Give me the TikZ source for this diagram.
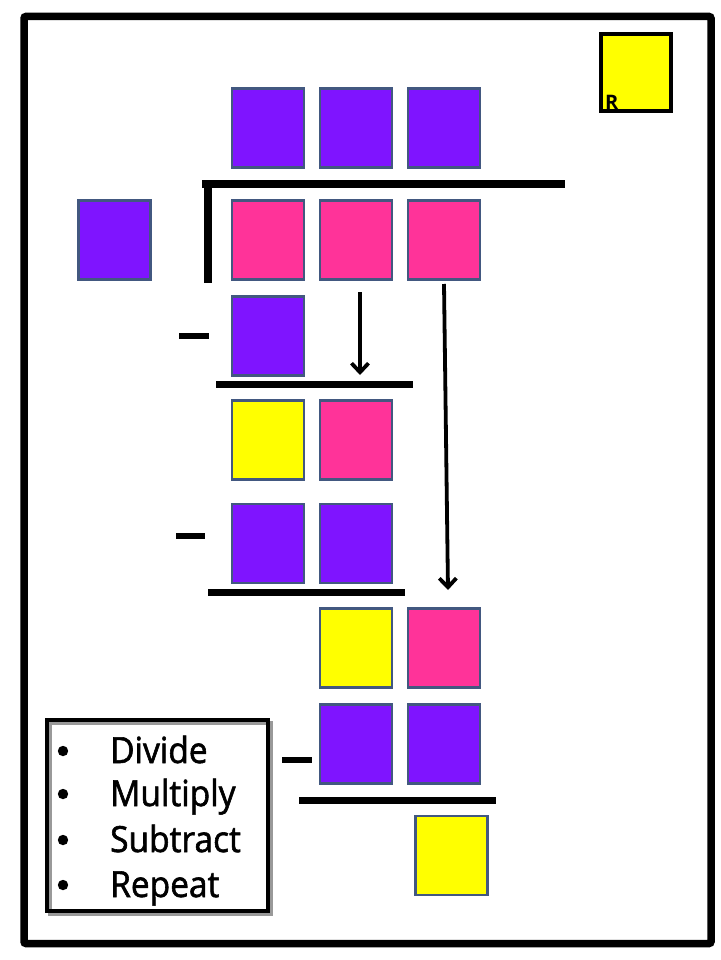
\documentclass[tikz,border=0pt]{standalone}
\usepackage{fontspec}
\setmainfont{Open Sans}
\newfontfamily\stepfont[FakeBold=1.6,FakeStretch=0.93]{Open Sans}
\usetikzlibrary{arrows.meta}
\definecolor{tilepurple}{RGB}{127,20,255}
\definecolor{tilepink}{RGB}{255,51,153}
\definecolor{tileyellow}{RGB}{255,255,0}
\definecolor{tileedge}{RGB}{66,88,128}

\begin{document}
\begin{tikzpicture}[x=1pt,y=-1pt,
    tile/.style={draw=tileedge, line width=2.2pt, minimum width=72pt, minimum height=79pt, inner sep=0pt},
    bar/.style={line width=7pt},
    minus/.style={line width=6pt},
    down/.style={line width=3.8pt, -{Straight Barb[length=9pt,width=17pt]}},
    steptext/.style={anchor=base west, inner sep=0pt, font=\stepfont\fontsize{36}{36}\selectfont}]
    \useasboundingbox (0,0) rectangle (720,960);
    \draw[line width=7.5pt, rounded corners=2pt] (24,16.5) rectangle (711,943.5);

    % remainder key
    \node[draw, line width=4pt, fill=tileyellow, minimum width=70pt, minimum height=77pt, inner sep=0pt] (rem) at (636,72.5) {};
    \node[anchor=base west, inner sep=0pt, font=\bfseries\fontsize{20}{20}\selectfont] (remlab) at (605,110) {R};

    % tiles
    \foreach \n/\x/\y/\c in
    {q1/268/128/tilepurple, q2/356/128/tilepurple, q3/444/128/tilepurple,
        dv/114.5/240/tilepurple,
        d1/268/240/tilepink, d2/356/240/tilepink, d3/444/240/tilepink,
        m1/268/336/tilepurple,
        r1/268/440/tileyellow, r2/356/440/tilepink,
        m2/268/543.5/tilepurple, m3/356/543.5/tilepurple,
        s1/356/648/tileyellow, s2/444/648/tilepink,
        m4/356/744/tilepurple, m5/444/744/tilepurple,
        left/451.5/855.5/tileyellow}
    {
        \node[tile, fill=\c] (\n) at (\x,\y) {};
    };

    % division bracket
    \draw[bar, line width=8pt] (208,181) -- (208,283);
    \draw[bar] (202,184) -- (565,184);

    % subtraction lines
    \draw[minus] (179,336) -- (209,336);
    \draw[bar] (216,384) -- (413,384);
    \draw[minus] (176,536) -- (205,536);
    \draw[bar] (208,592) -- (405,592);
    \draw[minus] (282,760) -- (312,760);
    \draw[bar] (299,800) -- (496,800);

    % bring down
    \coordinate (a1s) at (360,292);
    \coordinate (a1e) at (360,375);
    \coordinate (a2s) at (444,284);
    \coordinate (a2e) at (448,590);
    \draw[down] (a1s) -- (a1e);
    \draw[down] (a2s) -- (a2e);

    % steps
    \draw[black!40, line width=4pt] (50,723) rectangle (271,914);
    \draw[line width=4.5pt] (47,720) rectangle (268,911);
    \foreach \w/\b [count=\i] in {Divide/763, Multiply/806, Subtract/852, Repeat/897}
    {
        \fill (63,\b-12) circle (5.2pt);
        \node[steptext] (step\i) at (110,\b) {\w};
    };
\end{tikzpicture}
\end{document}
